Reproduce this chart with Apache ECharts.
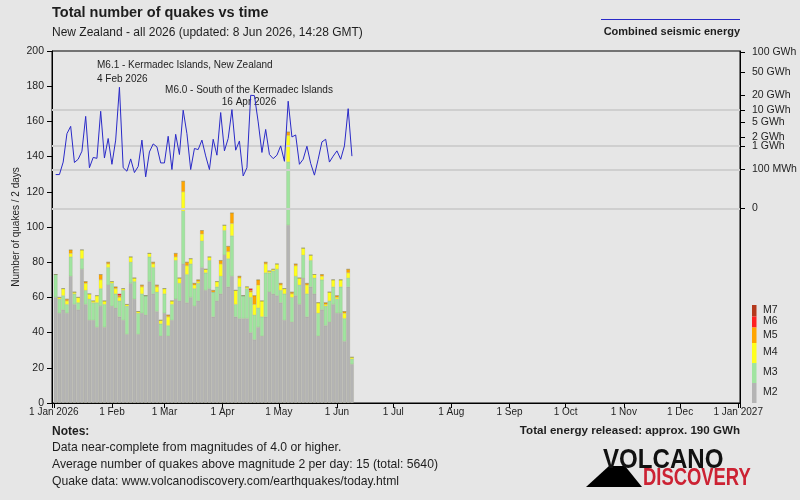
<!DOCTYPE html>
<html><head><meta charset="utf-8">
<script src="https://cdn.jsdelivr.net/npm/echarts@6/dist/echarts.min.js"></script>
<style>html,body{margin:0;padding:0;background:#e6e6e6}#c{width:800px;height:500px}</style>
</head><body><div id="c"></div>
<script>
// ---- data (one bar per 2 days, starting 1 Jan 2026) ----
const m2 = [60,51,53,51,72,56,53,76,56,47,47,43,55,43,67,55,54,49,47,39,68,59,39,51,50,69,62,52,38,51,38,47,59,58,79,57,60,55,58,77,64,65,49,58,62,84,66,72,49,48,48,48,40,36,43,38,49,63,62,61,57,47,101,46,61,56,71,49,66,62,38,53,44,46,56,51,51,35,66,22];
const m3 = [13,8,8,5,11,6,4,6,8,12,10,14,10,13,10,13,8,9,17,16,12,10,12,11,11,14,15,11,7,11,6,9,22,10,30,16,19,10,10,15,10,16,14,8,10,14,16,23,7,18,13,17,20,14,11,11,25,11,13,15,7,15,36,14,11,11,13,13,15,9,13,17,11,12,10,8,15,13,5,3];
const m4 = [0,1,4,2,2,1,3,5,4,3,1,4,5,2,2,1,3,2,1,1,3,2,1,4,0,2,2,3,2,3,5,2,2,3,11,5,3,2,1,4,2,2,0,3,7,3,4,7,8,5,0,1,3,6,13,9,5,1,1,3,3,3,15,2,6,4,4,5,3,2,6,2,1,5,4,1,4,3,3,1];
const m5 = [0,0,0,1,2,0,0,0,1,0,0,0,3,0,1,0,1,1,0,0,0,0,0,1,0,0,1,1,0,0,1,0,2,0,6,2,0,1,1,2,0,0,1,0,2,0,3,6,0,1,0,0,1,5,3,0,1,0,0,0,1,0,2,1,1,0,0,1,0,0,0,1,1,0,0,1,0,1,2,0];
const m6 = [0,0,0,0,0,0,0,0,0,0,0,0,0,0,0,0,0,1,0,0,0,0,0,0,0,0,0,0,0,0,0,0,0,0,0,0,0,0,0,0,0,0,0,0,0,0,0,0,0,0,0,0,1,0,0,0,0,0,0,0,0,0,0,0,0,0,0,0,0,0,0,0,0,0,0,0,0,0,0,0];
const m7 = [0,0,0,0,0,0,0,0,0,0,0,0,0,0,0,0,0,0,0,0,0,0,0,0,0,0,0,0,0,0,0,0,0,0,0,0,0,0,0,0,0,0,0,0,0,0,0,0,0,0,0,0,0,0,0,0,0,0,0,0,0,0,0,0,0,0,0,0,0,0,0,0,0,0,0,0,0,0,0,0];
// combined seismic energy per 2 days, GWh
const energyGWh = [0.048,0.048,0.23,2.5,4.0,0.22,0.31,0.66,7.1,0.12,0.37,0.34,9.3,0.35,1.8,0.18,1.6,28,0.12,0.077,0.32,0.064,0.14,1.6,0.034,0.62,1.2,0.95,0.21,0.21,2.1,0.096,2.4,0.49,9.8,2.5,0.096,0.83,0.76,1.6,0.43,0.096,1.7,0.46,8.7,0.68,1.8,10.1,0.72,1.5,0.039,0.12,19.9,19.6,5.2,0.59,3.3,0.49,0.33,0.46,1.03,0.25,15.2,2.0,2.3,0.18,0.31,1.0,0.2,0.044,0.31,1.4,1.7,0.23,0.42,0.68,0.31,1.03,10.6,0.42];
const monthTicks = ['2026-01-01','2026-02-01','2026-03-01','2026-04-01','2026-05-01','2026-06-01','2026-07-01','2026-08-01','2026-09-01','2026-10-01','2026-11-01','2026-12-01','2027-01-01'];
const monthLabels = ['1 Jan 2026','1 Feb','1 Mar','1 Apr','1 May','1 Jun','1 Jul','1 Aug','1 Sep','1 Oct','1 Nov','1 Dec','1 Jan 2027'];
const countTicksMax = 200, countTickStep = 20;
const energyTicks = [0,0.1,1,2,5,10,20,50,100];
const energyTickLabels = ['0','100 MWh','1 GWh','2 GWh','5 GWh','10 GWh','20 GWh','50 GWh','100 GWh'];
const energyGridLines = [0,0.1,1,10];
const magNames = ['M2','M3','M4','M5','M6','M7'];
const magColors = ['#b4b4b4','#a0e4a0','#ffff1e','#ffa500','#ff2020','#b4381c'];

// ---- helpers ----
const DAY = 86400000;
const tsOf = s => { const p = s.split('-').map(Number); return new Date(p[0], p[1]-1, p[2]).getTime(); };
const monthTs = monthTicks.map(tsOf);
const START = monthTs[0];
const barTs = i => START + (2*i + 1) * DAY;
const pw = e => Math.pow(e, 0.2);            // energy axis transform
const FONT = "'Liberation Sans',Arial,sans-serif";
const labelFor = v => { for (let k = 0; k < monthTs.length; k++) if (Math.abs(monthTs[k] - v) < 3*3600000) return monthLabels[k]; return ''; };

const magData = [m2,m3,m4,m5,m6,m7];
const barSeries = magData.map((arr, j) => ({
  name: magNames[j], type: 'bar', stack: 'q', xAxisIndex: 0, yAxisIndex: 0,
  barWidth: 3.6, z: 3,
  itemStyle: {color: magColors[j], borderColor: 'rgba(120,120,70,0.4)', borderWidth: 0.3},
  data: arr.map((v, i) => [barTs(i), v])
}));

const chart = echarts.init(document.getElementById('c'), null, {renderer: 'canvas'});
const txt = '#1e1e1e';
chart.setOption({
  backgroundColor: '#e6e6e6',
  animation: false,
  textStyle: {fontFamily: FONT},
  grid: {left: 52, right: 60, top: 51, bottom: 97, containLabel: false, outerBoundsMode: 'none',
    show: true, borderColor: '#000', borderWidth: 1, backgroundColor: 'transparent'},
  xAxis: {
    type: 'time', min: monthTs[0], max: monthTs[monthTs.length-1], splitNumber: 12,
    minInterval: 28*DAY, maxInterval: 31*DAY,
    axisLine: {lineStyle: {color: '#000', width: 1}},
    axisTick: {show: true, length: 5, lineStyle: {color: '#000'}},
    minorTick: {show: false},
    axisLabel: {hideOverlap: false, showMinLabel: true, showMaxLabel: true, color: txt, fontSize: 10, fontFamily: FONT, margin: 4,
      formatter: v => labelFor(v)},
    splitLine: {show: false}
  },
  yAxis: [{
    type: 'value', min: 0, max: countTicksMax, interval: countTickStep,
    name: 'Number of quakes / 2 days', nameLocation: 'middle', nameGap: 31, nameRotate: 90, nameMoveOverlap: false,
    nameTextStyle: {color: txt, fontSize: 10, fontFamily: FONT},
    axisLine: {show: true, lineStyle: {color: '#000'}},
    axisTick: {show: true, length: 5, lineStyle: {color: '#000'}},
    axisLabel: {color: txt, fontSize: 10.5, fontFamily: FONT, margin: 8},
    splitLine: {show: false}
  }, {
    type: 'value', position: 'right', min: -3.125, max: 2.53,
    axisLine: {show: true, lineStyle: {color: '#000'}},
    axisTick: {show: true, length: 5, customValues: energyTicks.map(pw), lineStyle: {color: '#000'}},
    axisLabel: {customValues: energyTicks.map(pw), hideOverlap: false, color: txt, fontSize: 10.5, fontFamily: FONT, margin: 12,
      formatter: v => { let best = 0, d = 1e9; energyTicks.forEach((e, k) => { const dd = Math.abs(pw(e) - v); if (dd < d) { d = dd; best = k; } }); return energyTickLabels[best]; }},
    splitLine: {show: false}
  }],
  series: [
    {name: 'grid', type: 'line', xAxisIndex: 0, yAxisIndex: 1, data: [], z: 1, silent: true,
      markLine: {silent: true, symbol: ['none','none'], label: {show: false},
        lineStyle: {color: '#cfcfcf', width: 2, type: 'solid'},
        data: energyGridLines.map(e => ({yAxis: pw(e)}))}},
    ...barSeries,
    {name: 'Combined seismic energy', type: 'line', xAxisIndex: 0, yAxisIndex: 1, z: 5,
      symbol: 'none', lineStyle: {color: '#2a2ac8', width: 1}, itemStyle: {color: '#2a2ac8'},
      data: energyGWh.map((e, i) => [barTs(i), pw(e)])}
  ],
  graphic: [
    {type: 'text', left: 52, top: 5, style: {text: 'Total number of quakes vs time', font: "bold 14.5px " + FONT, fill: txt}},
    {type: 'text', left: 52, top: 27, style: {text: 'New Zealand - all 2026 (updated: 8 Jun 2026, 14:28 GMT)', font: "12px " + FONT, fill: txt}},
    {type: 'line', shape: {x1: 601, y1: 19.5, x2: 740, y2: 19.5}, style: {stroke: '#2a2ac8', lineWidth: 1}},
    {type: 'text', right: 60, top: 26, style: {text: 'Combined seismic energy', font: "bold 11px " + FONT, fill: txt, textAlign: 'right'}},
    {type: 'text', left: 97, top: 58, style: {text: 'M6.1 - Kermadec Islands, New Zealand\n4 Feb 2026', font: "10px " + FONT, fill: txt, lineHeight: 14}},
    {type: 'text', x: 249, y: 84, style: {text: 'M6.0 - South of the Kermadec Islands\n16 Apr 2026', font: "10px " + FONT, fill: txt, align: 'center', lineHeight: 12}},
    ...[[305,316.5,5],[316.5,327.5,4],[327.5,343,3],[343,363,2],[363,383,1],[383,403,0]].map(([a,b,j]) => ({
      type: 'rect', shape: {x: 752, y: a, width: 4.5, height: b - a}, style: {fill: magColors[j]}})),
    ...[[310,'M7'],[321,'M6'],[335,'M5'],[352,'M4'],[372,'M3'],[392,'M2']].map(([y,t]) => ({
      type: 'text', x: 763, y: y, style: {text: t, font: "10.5px " + FONT, fill: txt, verticalAlign: 'middle'}})),
    {type: 'text', left: 52, top: 426, style: {text: 'Notes:', font: "bold 12px " + FONT, fill: txt}},
    {type: 'text', left: 52, top: 439, style: {text: 'Data near-complete from magnitudes of 4.0 or higher.\nAverage number of quakes above magnitude 2 per day: 15 (total: 5640)\nQuake data: www.volcanodiscovery.com/earthquakes/today.html', font: "12.2px " + FONT, fill: txt, lineHeight: 17}},
    {type: 'text', right: 60, top: 425, style: {text: 'Total energy released: approx. 190 GWh', font: "bold 11.6px " + FONT, fill: txt, textAlign: 'right'}},
    {type: 'polygon', shape: {points: [[586,487],[609,466],[625,466],[642,487]]}, style: {fill: '#000'}},
    {type: 'text', x: 603, y: 446, scaleX: 0.86, style: {text: 'VOLCANO', font: "bold 28px " + FONT, fill: '#111'}},
    {type: 'text', x: 643, y: 467, scaleX: 0.8, style: {text: 'DISCOVERY', font: "bold 23px " + FONT, fill: '#cc2233'}}
  ]
});
</script></body></html>
